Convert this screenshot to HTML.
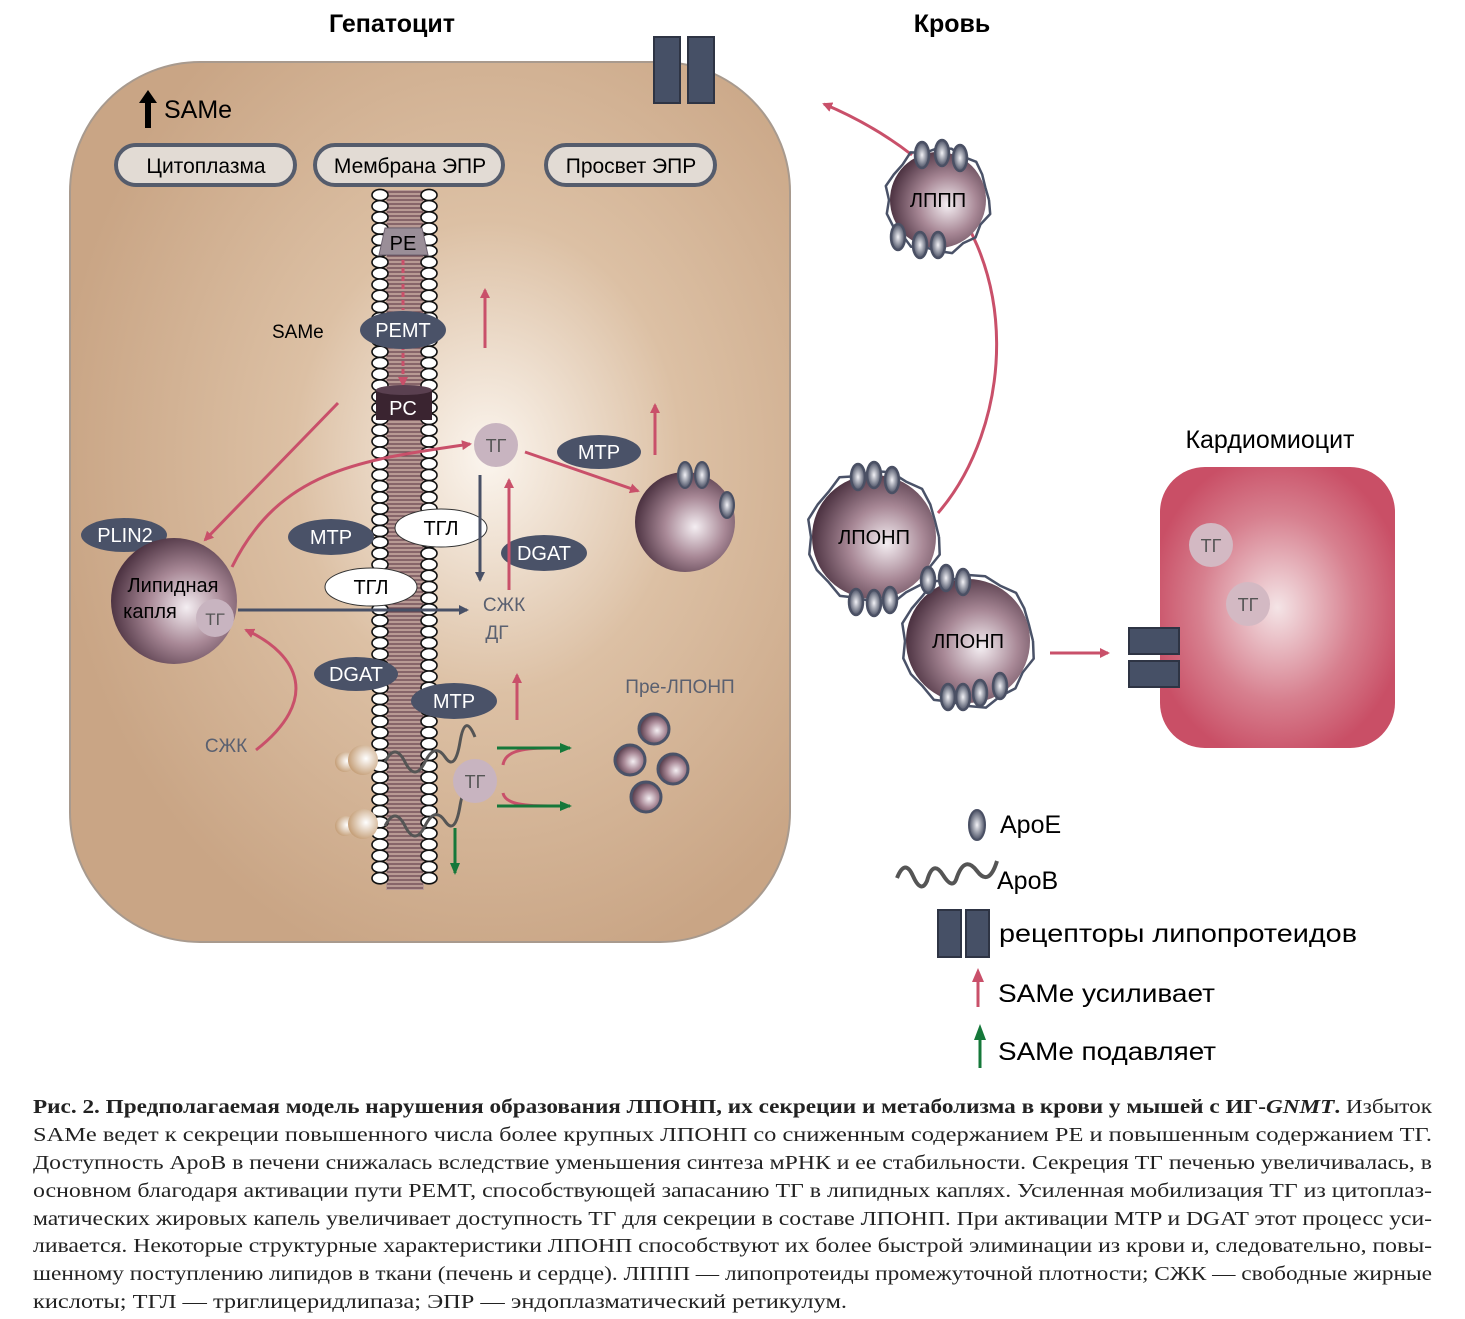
<!DOCTYPE html>
<html><head><meta charset="utf-8">
<style>
html,body{margin:0;padding:0;background:#fff;}
svg{display:block;}
.s{font-family:"Liberation Sans",sans-serif;}
.c{font-family:"Liberation Serif",serif;font-size:20px;fill:#222;}
</style></head>
<body>
<svg id="d" width="1465" height="1319" viewBox="0 0 1465 1319" xmlns="http://www.w3.org/2000/svg">
<defs>
<radialGradient id="cell" cx="0.58" cy="0.45" r="0.6">
<stop offset="0" stop-color="#fbf5ee"/><stop offset="0.45" stop-color="#dcc0a4"/><stop offset="1" stop-color="#c9a585"/></radialGradient>
<radialGradient id="card" cx="0.5" cy="0.5" r="0.55">
<stop offset="0" stop-color="#f4e4e6"/><stop offset="0.6" stop-color="#d7808f"/><stop offset="1" stop-color="#c94f66"/></radialGradient>
<radialGradient id="ball" cx="0.6" cy="0.55" r="0.6">
<stop offset="0" stop-color="#f4eef2"/><stop offset="0.5" stop-color="#a88896"/><stop offset="1" stop-color="#4e3443"/></radialGradient>
<radialGradient id="apoe" cx="0.5" cy="0.5" r="0.5">
<stop offset="0" stop-color="#f2f2f6"/><stop offset="1" stop-color="#4a5064"/></radialGradient>
<radialGradient id="bead" cx="0.6" cy="0.45" r="0.6">
<stop offset="0" stop-color="#fff"/><stop offset="1" stop-color="#c59f78"/></radialGradient>
<marker id="ar" markerWidth="10" markerHeight="10" refX="8" refY="5" orient="auto" markerUnits="userSpaceOnUse"><path d="M0,0 L10,5 L0,10z" fill="#c9506a"/></marker>
<marker id="ab" markerWidth="10" markerHeight="10" refX="8" refY="5" orient="auto" markerUnits="userSpaceOnUse"><path d="M0,0 L10,5 L0,10z" fill="#485066"/></marker>
<marker id="ag" markerWidth="12" markerHeight="10" refX="10" refY="5" orient="auto" markerUnits="userSpaceOnUse"><path d="M0,0 L12,5 L0,10z" fill="#15783a"/></marker>
</defs>

<text x="392" y="32" class="s" font-size="25" font-weight="bold" text-anchor="middle">Гепатоцит</text>
<text x="952" y="32" class="s" font-size="25" font-weight="bold" text-anchor="middle">Кровь</text>

<rect x="70" y="62" width="720" height="880" rx="130" fill="url(#cell)" stroke="#a89a8e" stroke-width="2"/>
<rect x="654" y="37" width="26" height="66" fill="#465066" stroke="#2e3444" stroke-width="2"/>
<rect x="688" y="37" width="26" height="66" fill="#465066" stroke="#2e3444" stroke-width="2"/>

<path d="M148,128 V100" stroke="#000" stroke-width="6"/><path d="M139,103 L148,90 L157,103z" fill="#000"/>
<text x="164" y="118" class="s" font-size="25">SAMe</text>

<g class="s" font-size="21" text-anchor="middle">
<rect x="116" y="145" width="179" height="40" rx="20" fill="#e2dbd4" stroke="#555c6c" stroke-width="4"/><text x="206" y="173">Цитоплазма</text>
<rect x="315" y="145" width="188" height="40" rx="20" fill="#e2dbd4" stroke="#555c6c" stroke-width="4"/><text x="410" y="173">Мембрана ЭПР</text>
<rect x="546" y="145" width="169" height="40" rx="20" fill="#e2dbd4" stroke="#555c6c" stroke-width="4"/><text x="631" y="173">Просвет ЭПР</text>
</g>

<g id="mem"></g>

<path d="M385,228 L422,228 L428,255 L379,255z" fill="#9a8e98" stroke="#6d6270"/>
<text x="403" y="250" class="s" font-size="20" text-anchor="middle">PE</text>
<line x1="403" y1="260" x2="403" y2="310" stroke="#c9506a" stroke-width="3" stroke-dasharray="5,3"/>
<line x1="403" y1="345" x2="403" y2="385" stroke="#c9506a" stroke-width="3" stroke-dasharray="5,3" marker-end="url(#ar)"/>
<rect x="376" y="390" width="56" height="30" fill="#3a2430"/><ellipse cx="404" cy="390" rx="28" ry="5" fill="#5a4050"/>
<text x="403" y="415" class="s" font-size="20" fill="#fff" text-anchor="middle">PC</text>
<text x="272" y="338" class="s" font-size="19">SAMe</text>

<g class="s" font-size="20" fill="#fff" text-anchor="middle">
<ellipse cx="403" cy="330" rx="43" ry="19" fill="#4a5268"/><text x="403" y="337">PEMT</text>
<ellipse cx="599" cy="452" rx="42" ry="17" fill="#4a5268"/><text x="599" y="459">MTP</text>
<ellipse cx="124" cy="535" rx="43" ry="17" fill="#4a5268"/><text x="125" y="542">PLIN2</text>
<ellipse cx="331" cy="537" rx="43" ry="18" fill="#4a5268"/><text x="331" y="544">MTP</text>
<ellipse cx="544" cy="553" rx="43" ry="18" fill="#4a5268"/><text x="544" y="560">DGAT</text>
<ellipse cx="356" cy="674" rx="42" ry="17" fill="#4a5268"/><text x="356" y="681">DGAT</text>
<ellipse cx="454" cy="701" rx="43" ry="18" fill="#4a5268"/><text x="454" y="708">MTP</text>
</g>
<g class="s" font-size="20" text-anchor="middle">
<ellipse cx="441" cy="528" rx="46" ry="19" fill="#fff" stroke="#333"/><text x="441" y="535">ТГЛ</text>
<ellipse cx="371" cy="587" rx="46" ry="19" fill="#fff" stroke="#333"/><text x="371" y="594">ТГЛ</text>
</g>

<g stroke="#c9506a" stroke-width="3" fill="none" marker-end="url(#ar)">
<line x1="485" y1="348" x2="485" y2="290"/>
<line x1="655" y1="455" x2="655" y2="405"/>
<line x1="517" y1="720" x2="517" y2="675"/>
<line x1="338" y1="403" x2="205" y2="540"/>
<path d="M232,567 C280,470 360,460 470,444"/>
<line x1="525" y1="452" x2="638" y2="491"/>
<line x1="509" y1="590" x2="509" y2="480"/>
<path d="M256,750 C320,700 300,655 246,630"/>
</g>
<g stroke="#485066" stroke-width="3" fill="none" marker-end="url(#ab)">
<line x1="480" y1="475" x2="480" y2="580"/>
<line x1="238" y1="610" x2="467" y2="610"/>
</g>

<g class="s" font-size="18" fill="#555" text-anchor="middle">
<circle cx="496" cy="445" r="22" fill="#c8b4c0"/><text x="496" y="452">ТГ</text>
</g>
<text x="504" y="611" class="s" font-size="19" fill="#5a6070" text-anchor="middle">СЖК</text>
<text x="497" y="639" class="s" font-size="19" fill="#5a6070" text-anchor="middle">ДГ</text>
<text x="226" y="752" class="s" font-size="19" fill="#5a6070" text-anchor="middle">СЖК</text>
<text x="680" y="693" class="s" font-size="19" fill="#5a6070" text-anchor="middle">Пре-ЛПОНП</text>

<circle cx="174" cy="601" r="63" fill="url(#ball)"/>
<text x="173" y="592" class="s" font-size="20" text-anchor="middle">Липидная</text>
<text x="150" y="618" class="s" font-size="20" text-anchor="middle">капля</text>
<circle cx="215" cy="618" r="19" fill="#c8b4c0"/><text x="215" y="625" class="s" font-size="17" fill="#555" text-anchor="middle">ТГ</text>

<circle cx="685" cy="522" r="50" fill="url(#ball)"/>
<ellipse cx="685" cy="475" rx="7" ry="13" fill="url(#apoe)" stroke="#4a5064" stroke-width="2"/>
<ellipse cx="702" cy="475" rx="7" ry="13" fill="url(#apoe)" stroke="#4a5064" stroke-width="2"/>
<ellipse cx="727" cy="505" rx="7" ry="13" fill="url(#apoe)" stroke="#4a5064" stroke-width="2"/>

<g fill="url(#ball)" stroke="#4a5268" stroke-width="3">
<circle cx="654" cy="729" r="15"/><circle cx="630" cy="760" r="15"/><circle cx="673" cy="769" r="15"/><circle cx="646" cy="797" r="15"/>
</g>

<g>
<circle cx="345" cy="762" r="10" fill="url(#bead)"/><circle cx="363" cy="760" r="15" fill="url(#bead)"/>
<circle cx="345" cy="826" r="10" fill="url(#bead)"/><circle cx="363" cy="824" r="15" fill="url(#bead)"/>
<path d="M385,762 q10,-20 20,0 t20,0 t20,-5 t15,-15 t15,-5" stroke="#555" stroke-width="3" fill="none"/>
<path d="M385,826 q10,-20 20,0 t20,0 t20,-5 t15,-15 t15,-5" stroke="#555" stroke-width="3" fill="none"/>
<circle cx="475" cy="781" r="22" fill="#c8b4c0"/><text x="475" y="788" class="s" font-size="18" fill="#555" text-anchor="middle">ТГ</text>
<path d="M503,765 C505,752 520,748 548,748" stroke="#c9506a" stroke-width="3" fill="none"/>
<path d="M503,793 C505,803 520,806 548,806" stroke="#c9506a" stroke-width="3" fill="none"/>
<g stroke="#15783a" stroke-width="3" marker-end="url(#ag)">
<line x1="497" y1="748" x2="570" y2="748"/><line x1="497" y1="806" x2="570" y2="806"/>
<line x1="455" y1="828" x2="455" y2="873"/>
</g>
</g>

<path d="M938,513 C1010,430 1030,260 915,160" stroke="#c9506a" stroke-width="3" fill="none"/>
<path d="M912,155 C880,130 850,115 824,104" stroke="#c9506a" stroke-width="3" fill="none" marker-end="url(#ar)"/>
<line x1="1050" y1="653" x2="1108" y2="653" stroke="#c9506a" stroke-width="3" marker-end="url(#ar)"/>

<g id="parts"></g>

<text x="1270" y="448" class="s" font-size="25" text-anchor="middle">Кардиомиоцит</text>
<rect x="1160" y="467" width="235" height="281" rx="45" fill="url(#card)"/>
<circle cx="1211" cy="545" r="22" fill="#d3b9c3"/><text x="1211" y="552" class="s" font-size="18" fill="#555" text-anchor="middle">ТГ</text>
<circle cx="1248" cy="604" r="22" fill="#d3b9c3"/><text x="1248" y="611" class="s" font-size="18" fill="#555" text-anchor="middle">ТГ</text>
<rect x="1129" y="628" width="50" height="26" fill="#465066" stroke="#2e3444" stroke-width="2"/>
<rect x="1129" y="661" width="50" height="26" fill="#465066" stroke="#2e3444" stroke-width="2"/>

<ellipse cx="977" cy="825" rx="8" ry="15" fill="url(#apoe)" stroke="#4a5064" stroke-width="2"/>
<text x="1000" y="833" class="s" font-size="25">ApoE</text>
<path d="M897,878 q8,-20 16,-2 t14,5 q6,-22 16,-6 t14,2 q8,-22 20,-6 t20,-10" stroke="#555" stroke-width="4" fill="none"/>
<text x="997" y="889" class="s" font-size="25">ApoB</text>
<rect x="938" y="910" width="23" height="47" fill="#465066" stroke="#2e3444" stroke-width="2"/>
<rect x="966" y="910" width="23" height="47" fill="#465066" stroke="#2e3444" stroke-width="2"/>
<text x="999" y="942" class="s" font-size="25" textLength="358" lengthAdjust="spacingAndGlyphs">рецепторы липопротеидов</text>
<line x1="978" y1="1007" x2="978" y2="975" stroke="#c9506a" stroke-width="3"/><path d="M972,982 L978,968 L984,982z" fill="#c9506a"/>
<text x="998" y="1002" class="s" font-size="25" textLength="217" lengthAdjust="spacingAndGlyphs">SAMe усиливает</text>
<line x1="980" y1="1068" x2="980" y2="1032" stroke="#15783a" stroke-width="3"/><path d="M974,1040 L980,1024 L986,1040z" fill="#15783a"/>
<text x="998" y="1060" class="s" font-size="25" textLength="218" lengthAdjust="spacingAndGlyphs">SAMe подавляет</text>

<g class="c">
<text x="33" y="1113" textLength="1399" lengthAdjust="spacingAndGlyphs"><tspan font-weight="bold">Рис. 2. Предполагаемая модель нарушения образования ЛПОНП, их секреции и метаболизма в крови у мышей с ИГ-<tspan font-style="italic">GNMT</tspan>.</tspan> Избыток</text>
<text x="33" y="1141" textLength="1399" lengthAdjust="spacingAndGlyphs">SAMe ведет к секреции повышенного числа более крупных ЛПОНП со сниженным содержанием PE и повышенным содержанием ТГ.</text>
<text x="33" y="1169" textLength="1399" lengthAdjust="spacingAndGlyphs">Доступность ApoB в печени снижалась вследствие уменьшения синтеза мРНК и ее стабильности. Секреция ТГ печенью увеличивалась, в</text>
<text x="33" y="1197" textLength="1399" lengthAdjust="spacingAndGlyphs">основном благодаря активации пути PEMT, способствующей запасанию ТГ в липидных каплях. Усиленная мобилизация ТГ из цитоплаз-</text>
<text x="33" y="1225" textLength="1399" lengthAdjust="spacingAndGlyphs">матических жировых капель увеличивает доступность ТГ для секреции в составе ЛПОНП. При активации MTP и DGAT этот процесс уси-</text>
<text x="33" y="1252" textLength="1399" lengthAdjust="spacingAndGlyphs">ливается. Некоторые структурные характеристики ЛПОНП способствуют их более быстрой элиминации из крови и, следовательно, повы-</text>
<text x="33" y="1280" textLength="1399" lengthAdjust="spacingAndGlyphs">шенному поступлению липидов в ткани (печень и сердце). ЛППП — липопротеиды промежуточной плотности; СЖК — свободные жирные</text>
<text x="33" y="1308" textLength="814" lengthAdjust="spacingAndGlyphs">кислоты; ТГЛ — триглицеридлипаза; ЭПР — эндоплазматический ретикулум.</text>
</g>
</svg>
<script>
var NS="http://www.w3.org/2000/svg";
function el(p,t,a){var e=document.createElementNS(NS,t);for(var k in a)e.setAttribute(k,a[k]);p.appendChild(e);return e;}
var m=document.getElementById("mem");
el(m,"rect",{x:386,y:190,width:38,height:700,fill:"#b89a94"});
for(var y=192;y<890;y+=4){el(m,"line",{x1:387,y1:y,x2:423,y2:y,stroke:"#6a4650","stroke-width":1.3});}
for(var y=195;y<=888;y+=11.2){el(m,"ellipse",{cx:380,cy:y,rx:8,ry:5.6,fill:"#fff",stroke:"#111","stroke-width":1.6});el(m,"ellipse",{cx:429,cy:y,rx:8,ry:5.6,fill:"#fff",stroke:"#111","stroke-width":1.6});}
var p=document.getElementById("parts");
function particle(cx,cy,r,label,tops,bots){
 var g=el(p,"g",{});
 var d="";var off=[3,6,1,5,2,7,3,1,6,2,4,5,1,6,3,2,7,1,4,5,2,6,3,1];
 for(var i=0;i<=24;i++){var a=i/24*Math.PI*2;var rr=r+off[i%24];d+=(i?"L":"M")+(cx+rr*Math.cos(a)).toFixed(1)+","+(cy+rr*Math.sin(a)).toFixed(1);}
 el(g,"path",{d:d,fill:"none",stroke:"#4a5268","stroke-width":2.5,"stroke-linejoin":"round"});
 el(g,"circle",{cx:cx,cy:cy,r:r,fill:"url(#ball)"});
 tops.concat(bots).forEach(function(q){el(g,"ellipse",{cx:q[0],cy:q[1],rx:7,ry:13,fill:"url(#apoe)",stroke:"#4a5064","stroke-width":2.5});});
 var t=el(g,"text",{x:cx,y:cy+7,"font-size":20,"text-anchor":"middle","font-family":"Liberation Sans,sans-serif"});t.textContent=label;
}
particle(938,200,48,"ЛППП",[[922,155],[942,153],[960,158]],[[898,237],[920,245],[938,245]]);
particle(874,537,62,"ЛПОНП",[[858,477],[874,475],[892,480]],[[856,602],[874,603],[890,600]]);
particle(968,641,62,"ЛПОНП",[[928,580],[946,578],[963,582]],[[948,697],[963,697],[980,693],[1000,686]]);
</script>
</body></html>
